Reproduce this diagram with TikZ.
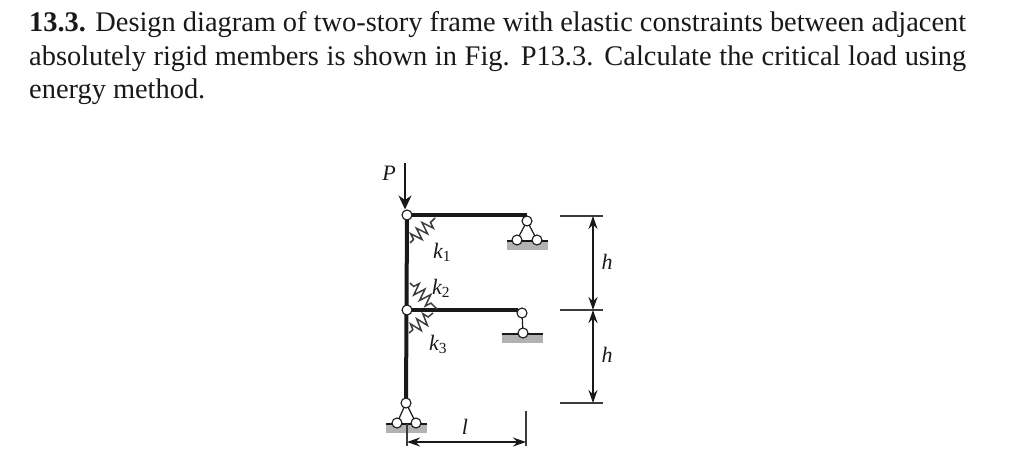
\documentclass[tikz,border=0pt]{standalone}
\usepackage{fontspec}
\setmainfont{Liberation Serif}
\usetikzlibrary{arrows.meta,decorations.pathmorphing}
\definecolor{ink}{gray}{0.1}
\tikzset{
  x=1pt,y=-1pt,
  titleline/.style={anchor=base west,inner sep=0pt,font=\fontsize{28.4}{32}\selectfont,text=ink},
  hinge/.style={circle,draw=ink,fill=white,line width=1.1pt,minimum size=10pt,inner sep=0pt},
  member/.style={draw=ink,line width=4pt},
  thin link/.style={draw=ink,line width=1.2pt},
  groundline/.style={draw=ink,line width=1.3pt},
  groundfill/.style={fill=black!30,draw=none},
  springline/.style={draw=ink!85,line width=1.5pt,decorate,decoration={zigzag,segment length=8pt,amplitude=6pt,pre length=5pt,post length=5pt}},
  dimline/.style={draw=ink!85,line width=1.2pt},
  dimarrow/.style={draw=ink,line width=1.6pt,{Stealth[length=13pt,width=9pt]}-{Stealth[length=13pt,width=9pt]}},
  mathlabel/.style={inner sep=0pt,text=ink,font=\fontsize{22}{24}\selectfont\itshape},
}
\begin{document}
\begin{tikzpicture}
\useasboundingbox[fill=white] (0,0) rectangle (1024,463);
% text
\node[titleline] (t1) at (29,31) {\hbox to 937pt{\textbf{13.3.} Design diagram of two-story frame with elastic constraints between adjacent}};
\node[titleline] (t2) at (29,65) {\hbox to 937pt{absolutely rigid members is shown in Fig. P13.3. Calculate the critical load using}};
\node[titleline] (t3) at (29,98) {energy method.};
% ground
\fill[groundfill] (507,241) rectangle (548,250);
\fill[groundfill] (502,334) rectangle (543,343);
\fill[groundfill] (386,424) rectangle (427,433);
\coordinate (g1a) at (507,241); \coordinate (g1b) at (548,241);
\coordinate (g2a) at (502,334); \coordinate (g2b) at (543,334);
\coordinate (g3a) at (386,424); \coordinate (g3b) at (427,424);
\draw[groundline] (g1a) -- (g1b);
\draw[groundline] (g2a) -- (g2b);
\draw[groundline] (g3a) -- (g3b);
% joint positions
\coordinate (Jtop) at (407,215);
\coordinate (Jmid) at (407,310);
\coordinate (Jbot) at (406,403);
\coordinate (Rtop) at (527,221);
\coordinate (Rmid) at (522,313);
\coordinate (Rlow) at (523,333);
\coordinate (Rl) at (517,240);
\coordinate (Rr) at (537,240);
\coordinate (Bl) at (397,423);
\coordinate (Br) at (416,423);
% members
\draw[member] (Jtop) -- (527,215);
\draw[member,line width=3.4pt] (Jmid) -- (518,310);
\draw[member] (Jtop) -- (Jbot);
% support links
\draw[thin link] (Rl) -- (Rtop) -- (Rr);
\draw[thin link] (Rmid) -- (Rlow);
\draw[thin link] (Bl) -- (Jbot) -- (Br);
% springs
\coordinate (s1a) at (410,243); \coordinate (s1b) at (435,218);
\coordinate (s2a) at (410,283); \coordinate (s2b) at (437,309);
\coordinate (s3a) at (409,333); \coordinate (s3b) at (433,313);
\draw[springline] (s1a) -- (s1b);
\draw[springline] (s2a) -- (s2b);
\draw[springline] (s3a) -- (s3b);
% hinges
\node[hinge] (hJtop) at (Jtop) {};
\node[hinge] (hJmid) at (Jmid) {};
\node[hinge] (hJbot) at (Jbot) {};
\node[hinge] (hRtop) at (Rtop) {};
\node[hinge] (hRmid) at (Rmid) {};
\node[hinge] (hRlow) at (Rlow) {};
\node[hinge] (hRl) at (Rl) {};
\node[hinge] (hRr) at (Rr) {};
\node[hinge] (hBl) at (Bl) {};
\node[hinge] (hBr) at (Br) {};
% load
\coordinate (Ptail) at (405,163);
\draw[draw=ink,line width=1.5pt,-{Stealth[length=14pt,width=13pt]}] (Ptail) -- (hJtop.north -| Ptail);
\node[mathlabel] (P) at (389,173) {P};
% spring labels
\node[mathlabel] (k1) at (442,252) {k\textsubscript{\upshape 1}};
\node[mathlabel] (k2) at (441,288) {k\textsubscript{\upshape 2}};
\node[mathlabel] (k3) at (438,344) {k\textsubscript{\upshape 3}};
% dimensions
\coordinate (d1a) at (560,216); \coordinate (d1b) at (603,216);
\coordinate (d2a) at (560,310); \coordinate (d2b) at (603,310);
\coordinate (d3a) at (560,403); \coordinate (d3b) at (603,403);
\draw[dimline] (d1a) -- (d1b);
\draw[dimline] (d2a) -- (d2b);
\draw[dimline] (d3a) -- (d3b);
\coordinate (v1) at (593,216); \coordinate (v2) at (593,310); \coordinate (v3) at (593,403);
\draw[dimarrow] (v1) -- (v2);
\draw[dimarrow] (v2) -- (v3);
\node[mathlabel] (h1) at (607,262) {h};
\node[mathlabel] (h2) at (607,355) {h};
\coordinate (l1a) at (407,424); \coordinate (l1b) at (407,446);
\coordinate (l2a) at (526,411); \coordinate (l2b) at (526,446);
\draw[dimline] (l1a) -- (l1b);
\draw[dimline] (l2a) -- (l2b);
\coordinate (la) at (407,442); \coordinate (lb) at (526,442);
\draw[dimarrow] (la) -- (lb);
\node[mathlabel] (l) at (465,427) {l};
\end{tikzpicture}
\end{document}
